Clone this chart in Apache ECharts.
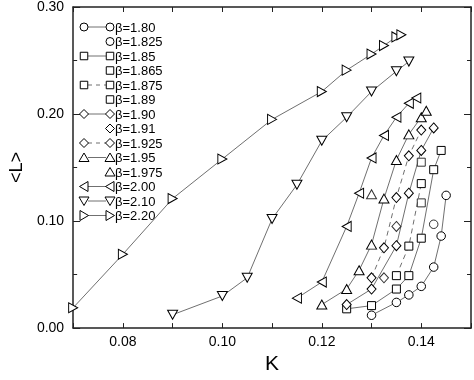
<!DOCTYPE html>
<html><head><meta charset="utf-8">
<script src="https://cdn.jsdelivr.net/npm/echarts@6/dist/echarts.min.js"></script>
<style>html,body{margin:0;padding:0;background:#fff}#c{width:474px;height:380px}</style>
</head><body><div id="c"></div>
<script>
// legend / series descriptors
const betas = ['1.80','1.825','1.85','1.865','1.875','1.89','1.90','1.91','1.925','1.95','1.975','2.00','2.10','2.20'];
const shapes = ['circle','circle','square','square','square','square','diamond','diamond','diamond','up','up','left','down','right'];
const lineKinds = ['solid','none','solid','none','dashed','none','solid','none','dashed','solid','none','solid','solid','solid'];

// data (K, <L>) per beta
const K180 = [0.130, 0.135, 0.1375, 0.140, 0.1425, 0.144, 0.145];
const L180 = [0.012, 0.024, 0.031, 0.039, 0.057, 0.086, 0.124];
const K1825 = [0.1425];
const L1825 = [0.097];
const K185 = [0.125, 0.130, 0.135, 0.1375, 0.140, 0.1425, 0.144];
const L185 = [0.018, 0.021, 0.0365, 0.049, 0.084, 0.148, 0.166];
const K1865 = [0.140];
const L1865 = [0.117];
const K1875 = [0.135, 0.1375, 0.140];
const L1875 = [0.049, 0.0766, 0.135];
const K189 = [0.140];
const L189 = [0.155];
const K190 = [0.125, 0.130, 0.135, 0.1375, 0.140, 0.1425];
const L190 = [0.022, 0.0365, 0.077, 0.126, 0.166, 0.187];
const K191 = [0.1325, 0.135];
const L191 = [0.047, 0.095];
const K1925 = [0.130, 0.1325, 0.135, 0.1375, 0.140];
const L1925 = [0.047, 0.075, 0.122, 0.161, 0.185];
const K195 = [0.120, 0.125, 0.1275, 0.130, 0.1325, 0.135, 0.1375, 0.140, 0.141];
const L195 = [0.022, 0.0365, 0.054, 0.078, 0.121, 0.157, 0.181, 0.197, 0.203];
const K1975 = [0.130];
const L1975 = [0.125];
const K200 = [0.115, 0.120, 0.125, 0.1275, 0.130, 0.1325, 0.135, 0.1375, 0.139];
const L200 = [0.028, 0.043, 0.095, 0.126, 0.159, 0.180, 0.197, 0.210, 0.215];
const K210 = [0.090, 0.100, 0.105, 0.110, 0.115, 0.120, 0.125, 0.130, 0.135, 0.1375];
const L210 = [0.0125, 0.030, 0.047, 0.102, 0.134, 0.175, 0.197, 0.221, 0.240, 0.249];
const K220 = [0.070, 0.080, 0.090, 0.100, 0.110, 0.120, 0.125, 0.130, 0.1325, 0.135, 0.136];
const L220 = [0.019, 0.069, 0.121, 0.158, 0.195, 0.221, 0.241, 0.256, 0.264, 0.272, 0.274];

const allK = [K180,K1825,K185,K1865,K1875,K189,K190,K191,K1925,K195,K1975,K200,K210,K220];
const allL = [L180,L1825,L185,L1865,L1875,L189,L190,L191,L1925,L195,L1975,L200,L210,L220];

// axis ticks
const xMin = 0.07, xMax = 0.15, xStep = 0.01;
const yMin = 0, yMax = 0.30, yStep = 0.10;

const FONT = "'Liberation Sans', Arial, Helvetica, sans-serif";
const LINE_COLOR = '#707070';
const FRAME = '#222';

function symInfo(s) {
  switch (s) {
    case 'circle': return {symbol:'circle', size:8.5, rot:0};
    case 'square': return {symbol:'rect', size:8, rot:0};
    case 'diamond': return {symbol:'diamond', size:[9,10], rot:0};
    case 'up': return {symbol:'triangle', size:[10,9], rot:0};
    case 'left': return {symbol:'triangle', size:[10,9], rot:90};
    case 'down': return {symbol:'triangle', size:[10,9], rot:180};
    case 'right': return {symbol:'triangle', size:[10,9], rot:-90};
  }
}

const series = betas.map((b, i) => {
  const si = symInfo(shapes[i]);
  const data = allK[i].map((k, j) => [k, allL[i][j]]);
  const base = {
    name: 'β=' + b,
    data: data,
    symbol: si.symbol,
    symbolSize: si.size,
    symbolRotate: si.rot,
    itemStyle: {color:'#fff', borderColor:'#000', borderWidth:1},
    clip: false,
    animation: false,
    z: 3
  };
  if (lineKinds[i] === 'none') {
    return Object.assign(base, {type:'scatter'});
  }
  return Object.assign(base, {
    type:'line',
    showSymbol:true,
    showAllSymbol:true,
    lineStyle:{color:LINE_COLOR, width:1, type: lineKinds[i] === 'dashed' ? [5,4] : 'solid'},
    emphasis:{disabled:true}
  });
});

// legend drawn as graphics built from the descriptor arrays
function shapeGraphic(s, cx, cy) {
  const st = {fill:'#fff', stroke:'#000', lineWidth:1};
  if (s === 'circle') return {type:'circle', shape:{cx:cx, cy:cy, r:4}, style:st, z:10};
  if (s === 'square') return {type:'rect', shape:{x:cx-3.75, y:cy-3.75, width:7.5, height:7.5}, style:st, z:10};
  if (s === 'diamond') return {type:'polygon', shape:{points:[[cx,cy-4.5],[cx+4.5,cy],[cx,cy+4.5],[cx-4.5,cy]]}, style:st, z:10};
  if (s === 'up') return {type:'polygon', shape:{points:[[cx,cy-4.5],[cx+5,cy+4],[cx-5,cy+4]]}, style:st, z:10};
  if (s === 'down') return {type:'polygon', shape:{points:[[cx,cy+4.5],[cx+5,cy-4],[cx-5,cy-4]]}, style:st, z:10};
  if (s === 'left') return {type:'polygon', shape:{points:[[cx-4.5,cy],[cx+4,cy-5],[cx+4,cy+5]]}, style:st, z:10};
  if (s === 'right') return {type:'polygon', shape:{points:[[cx+4.5,cy],[cx-4,cy-5],[cx-4,cy+5]]}, style:st, z:10};
}
const legendGraphics = [];
const lgX1 = 84, lgX2 = 110, lgY0 = 27, lgDy = 14.5;
betas.forEach((b, i) => {
  const y = lgY0 + i * lgDy;
  if (lineKinds[i] !== 'none') {
    legendGraphics.push({type:'line', shape:{x1:lgX1+4, y1:y, x2:lgX2-4, y2:y},
      style:{stroke:LINE_COLOR, lineWidth:1, lineDash: lineKinds[i]==='dashed' ? [4,4] : null}, z:9});
    legendGraphics.push(shapeGraphic(shapes[i], lgX1, y));
  }
  legendGraphics.push(shapeGraphic(shapes[i], lgX2, y));
  legendGraphics.push({type:'text', x:115, y:y + 1, style:{text:'β=' + b, fill:'#000', font:'13px ' + FONT, verticalAlign:'middle'}, z:10});
});

const frameLine = {show:true, onZero:false, lineStyle:{color:FRAME, width:1.5}};
const chart = echarts.init(document.getElementById('c'), null, {renderer:'canvas'});
chart.setOption({
  animation:false,
  backgroundColor:'#fff',
  textStyle:{fontFamily:FONT},
  grid:{left:67, right:1, top:6, bottom:37, containLabel:false},
  xAxis:[
    {type:'value', min:xMin, max:xMax, interval:xStep, position:'bottom',
     axisLine:frameLine,
     axisTick:{show:true, inside:true, length:5, lineStyle:{color:FRAME, width:1}},
     axisLabel:{color:'#000', fontSize:14, margin:7, fontFamily:FONT,
       formatter: v => (Math.round(v*100) % 2 === 0 ? v.toFixed(2) : '')},
     splitLine:{show:false},
     name:'K', nameLocation:'middle', nameGap:18,
     nameTextStyle:{fontSize:21, color:'#000', fontFamily:FONT}},
    {type:'value', min:xMin, max:xMax, interval:xStep, position:'top',
     axisLine:frameLine,
     axisTick:{show:true, inside:true, length:5, lineStyle:{color:FRAME, width:1}},
     axisLabel:{show:false}, splitLine:{show:false}}
  ],
  yAxis:[
    {type:'value', min:yMin, max:yMax, interval:yStep, position:'left',
     axisLine:frameLine,
     axisTick:{show:true, inside:true, length:7, lineStyle:{color:FRAME, width:1}},
     minorTick:{show:true, splitNumber:2, length:4, lineStyle:{color:FRAME, width:1}},
     axisLabel:{color:'#000', fontSize:14, margin:9, fontFamily:FONT, formatter: v => v.toFixed(2)},
     splitLine:{show:false},
     name:'<L>', nameLocation:'middle', nameGap:47, nameRotate:90,
     nameTextStyle:{fontSize:18, color:'#000', fontFamily:FONT}},
    {type:'value', min:yMin, max:yMax, interval:yStep, position:'right',
     axisLine:frameLine,
     axisTick:{show:true, inside:true, length:7, lineStyle:{color:FRAME, width:1}},
     minorTick:{show:true, splitNumber:2, length:4, lineStyle:{color:FRAME, width:1}},
     axisLabel:{show:false}, splitLine:{show:false}}
  ],
  series: series,
  graphic: legendGraphics
});
</script></body></html>
